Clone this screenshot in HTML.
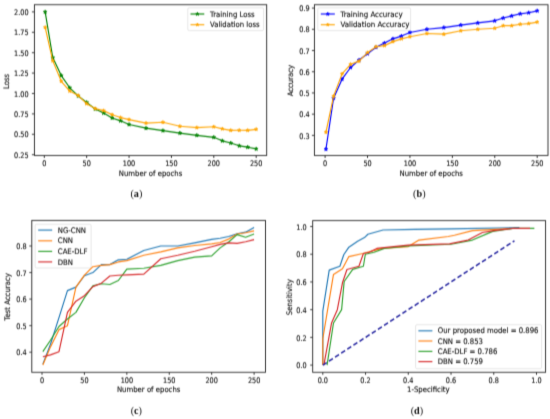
<!DOCTYPE html>
<html><head><meta charset="utf-8"><title>Figure</title>
<style>
html,body{margin:0;padding:0;background:#fff;}
svg{display:block;}
svg text{font-family:"DejaVu Sans","Liberation Sans",sans-serif;font-size:6.93px;fill:#111;stroke:#111;stroke-width:0.12px;}
svg text.cap{font-family:"Liberation Serif","DejaVu Serif",serif;font-size:10.2px;fill:#111;stroke:none;}
</style></head><body>
<svg width="550" height="419" viewBox="0 0 550 419">
<defs><filter id="soft" color-interpolation-filters="sRGB" x="0" y="0" width="550" height="419" filterUnits="userSpaceOnUse"><feConvolveMatrix order="3" kernelMatrix="0.0200 0.1600 0.0200 0.0600 0.4800 0.0600 0.0200 0.1600 0.0200" divisor="1" edgeMode="duplicate" preserveAlpha="true"/></filter></defs>
<rect width="550" height="419" fill="#fff"/>
<g filter="url(#soft)">
<rect width="550" height="419" fill="#fff"/>
<clipPath id="c39"><rect x="34.40" y="4.70" width="232.30" height="150.80"/></clipPath>
<g clip-path="url(#c39)">
<polyline points="45.15,11.90 52.77,57.60 61.25,75.55 69.72,87.79 78.20,95.95 86.67,102.48 95.15,109.00 103.62,113.08 112.10,117.98 120.58,120.84 129.05,124.51 146.00,128.18 162.95,130.63 179.90,133.08 196.85,135.36 213.80,137.32 222.27,140.83 230.75,143.03 239.23,145.81 247.70,147.19 256.18,148.91" fill="none" stroke="#008000" stroke-width="1.15" stroke-linejoin="round"/>
<polygon points="45.15,9.90 45.60,11.28 47.05,11.28 45.87,12.14 46.32,13.52 45.15,12.66 43.97,13.52 44.42,12.14 43.25,11.28 44.70,11.28" fill="#008000" stroke="#008000" stroke-width="0.69" stroke-linejoin="miter"/>
<polygon points="52.77,55.60 53.22,56.98 54.68,56.98 53.50,57.83 53.95,59.21 52.77,58.36 51.60,59.21 52.05,57.83 50.87,56.98 52.33,56.98" fill="#008000" stroke="#008000" stroke-width="0.69" stroke-linejoin="miter"/>
<polygon points="61.25,73.55 61.70,74.93 63.15,74.93 61.98,75.78 62.43,77.17 61.25,76.31 60.07,77.17 60.52,75.78 59.35,74.93 60.80,74.93" fill="#008000" stroke="#008000" stroke-width="0.69" stroke-linejoin="miter"/>
<polygon points="69.72,85.79 70.17,87.17 71.63,87.17 70.45,88.02 70.90,89.41 69.72,88.55 68.55,89.41 69.00,88.02 67.82,87.17 69.28,87.17" fill="#008000" stroke="#008000" stroke-width="0.69" stroke-linejoin="miter"/>
<polygon points="78.20,93.95 78.65,95.33 80.10,95.33 78.93,96.18 79.38,97.57 78.20,96.71 77.02,97.57 77.47,96.18 76.30,95.33 77.75,95.33" fill="#008000" stroke="#008000" stroke-width="0.69" stroke-linejoin="miter"/>
<polygon points="86.67,100.48 87.12,101.86 88.58,101.86 87.40,102.71 87.85,104.09 86.67,103.24 85.50,104.09 85.95,102.71 84.77,101.86 86.23,101.86" fill="#008000" stroke="#008000" stroke-width="0.69" stroke-linejoin="miter"/>
<polygon points="95.15,107.00 95.60,108.39 97.05,108.39 95.88,109.24 96.33,110.62 95.15,109.77 93.97,110.62 94.42,109.24 93.25,108.39 94.70,108.39" fill="#008000" stroke="#008000" stroke-width="0.69" stroke-linejoin="miter"/>
<polygon points="103.62,111.08 104.07,112.47 105.53,112.47 104.35,113.32 104.80,114.70 103.62,113.85 102.45,114.70 102.90,113.32 101.72,112.47 103.18,112.47" fill="#008000" stroke="#008000" stroke-width="0.69" stroke-linejoin="miter"/>
<polygon points="112.10,115.98 112.55,117.36 114.00,117.36 112.83,118.22 113.28,119.60 112.10,118.74 110.92,119.60 111.37,118.22 110.20,117.36 111.65,117.36" fill="#008000" stroke="#008000" stroke-width="0.69" stroke-linejoin="miter"/>
<polygon points="120.58,118.84 121.02,120.22 122.48,120.22 121.30,121.07 121.75,122.45 120.58,121.60 119.40,122.45 119.85,121.07 118.67,120.22 120.13,120.22" fill="#008000" stroke="#008000" stroke-width="0.69" stroke-linejoin="miter"/>
<polygon points="129.05,122.51 129.50,123.89 130.95,123.89 129.78,124.74 130.23,126.13 129.05,125.27 127.87,126.13 128.32,124.74 127.15,123.89 128.60,123.89" fill="#008000" stroke="#008000" stroke-width="0.69" stroke-linejoin="miter"/>
<polygon points="146.00,126.18 146.45,127.56 147.90,127.56 146.73,128.42 147.18,129.80 146.00,128.94 144.82,129.80 145.27,128.42 144.10,127.56 145.55,127.56" fill="#008000" stroke="#008000" stroke-width="0.69" stroke-linejoin="miter"/>
<polygon points="162.95,128.63 163.40,130.01 164.85,130.01 163.68,130.86 164.13,132.25 162.95,131.39 161.77,132.25 162.22,130.86 161.05,130.01 162.50,130.01" fill="#008000" stroke="#008000" stroke-width="0.69" stroke-linejoin="miter"/>
<polygon points="179.90,131.08 180.35,132.46 181.80,132.46 180.63,133.31 181.08,134.69 179.90,133.84 178.72,134.69 179.17,133.31 178.00,132.46 179.45,132.46" fill="#008000" stroke="#008000" stroke-width="0.69" stroke-linejoin="miter"/>
<polygon points="196.85,133.36 197.30,134.74 198.75,134.74 197.58,135.60 198.03,136.98 196.85,136.12 195.67,136.98 196.12,135.60 194.95,134.74 196.40,134.74" fill="#008000" stroke="#008000" stroke-width="0.69" stroke-linejoin="miter"/>
<polygon points="213.80,135.32 214.25,136.70 215.70,136.70 214.53,137.56 214.98,138.94 213.80,138.08 212.62,138.94 213.07,137.56 211.90,136.70 213.35,136.70" fill="#008000" stroke="#008000" stroke-width="0.69" stroke-linejoin="miter"/>
<polygon points="222.27,138.83 222.72,140.21 224.18,140.21 223.00,141.06 223.45,142.45 222.27,141.59 221.10,142.45 221.55,141.06 220.37,140.21 221.83,140.21" fill="#008000" stroke="#008000" stroke-width="0.69" stroke-linejoin="miter"/>
<polygon points="230.75,141.03 231.20,142.41 232.65,142.41 231.48,143.27 231.93,144.65 230.75,143.80 229.57,144.65 230.02,143.27 228.85,142.41 230.30,142.41" fill="#008000" stroke="#008000" stroke-width="0.69" stroke-linejoin="miter"/>
<polygon points="239.23,143.81 239.67,145.19 241.13,145.19 239.95,146.04 240.40,147.42 239.23,146.57 238.05,147.42 238.50,146.04 237.32,145.19 238.78,145.19" fill="#008000" stroke="#008000" stroke-width="0.69" stroke-linejoin="miter"/>
<polygon points="247.70,145.19 248.15,146.57 249.60,146.57 248.43,147.43 248.88,148.81 247.70,147.96 246.52,148.81 246.97,147.43 245.80,146.57 247.25,146.57" fill="#008000" stroke="#008000" stroke-width="0.69" stroke-linejoin="miter"/>
<polygon points="256.18,146.91 256.62,148.29 258.08,148.29 256.90,149.14 257.35,150.52 256.18,149.67 255.00,150.52 255.45,149.14 254.27,148.29 255.73,148.29" fill="#008000" stroke="#008000" stroke-width="0.69" stroke-linejoin="miter"/>
<polyline points="45.15,27.40 52.77,60.86 61.25,81.26 69.72,91.05 78.20,95.54 86.67,103.70 95.15,108.60 103.62,110.64 112.10,114.72 120.58,117.57 129.05,119.61 146.00,123.12 162.95,122.30 179.90,126.30 196.85,127.61 213.80,126.79 222.27,128.83 230.75,130.38 239.23,130.30 247.70,130.38 256.18,129.32" fill="none" stroke="#ffa500" stroke-width="1.15" stroke-linejoin="round"/>
<polygon points="45.15,25.55 45.56,26.83 46.91,26.83 45.82,27.62 46.23,28.90 45.15,28.11 44.06,28.90 44.48,27.62 43.39,26.83 44.73,26.83" fill="#ffa500" stroke="#ffa500" stroke-width="0.69" stroke-linejoin="miter"/>
<polygon points="52.77,59.01 53.19,60.29 54.53,60.29 53.45,61.08 53.86,62.36 52.77,61.57 51.69,62.36 52.10,61.08 51.02,60.29 52.36,60.29" fill="#ffa500" stroke="#ffa500" stroke-width="0.69" stroke-linejoin="miter"/>
<polygon points="61.25,79.41 61.67,80.69 63.01,80.69 61.92,81.48 62.34,82.76 61.25,81.97 60.16,82.76 60.58,81.48 59.49,80.69 60.83,80.69" fill="#ffa500" stroke="#ffa500" stroke-width="0.69" stroke-linejoin="miter"/>
<polygon points="69.72,89.20 70.14,90.48 71.48,90.48 70.40,91.27 70.81,92.55 69.72,91.76 68.64,92.55 69.05,91.27 67.97,90.48 69.31,90.48" fill="#ffa500" stroke="#ffa500" stroke-width="0.69" stroke-linejoin="miter"/>
<polygon points="78.20,93.69 78.62,94.97 79.96,94.97 78.87,95.76 79.29,97.04 78.20,96.25 77.11,97.04 77.53,95.76 76.44,94.97 77.78,94.97" fill="#ffa500" stroke="#ffa500" stroke-width="0.69" stroke-linejoin="miter"/>
<polygon points="86.67,101.85 87.09,103.13 88.43,103.13 87.35,103.92 87.76,105.20 86.67,104.41 85.59,105.20 86.00,103.92 84.92,103.13 86.26,103.13" fill="#ffa500" stroke="#ffa500" stroke-width="0.69" stroke-linejoin="miter"/>
<polygon points="95.15,106.75 95.57,108.02 96.91,108.02 95.82,108.81 96.24,110.09 95.15,109.30 94.06,110.09 94.48,108.81 93.39,108.02 94.73,108.02" fill="#ffa500" stroke="#ffa500" stroke-width="0.69" stroke-linejoin="miter"/>
<polygon points="103.62,108.79 104.04,110.06 105.38,110.06 104.30,110.85 104.71,112.13 103.62,111.34 102.54,112.13 102.95,110.85 101.87,110.06 103.21,110.06" fill="#ffa500" stroke="#ffa500" stroke-width="0.69" stroke-linejoin="miter"/>
<polygon points="112.10,112.87 112.52,114.14 113.86,114.14 112.77,114.93 113.19,116.21 112.10,115.42 111.01,116.21 111.43,114.93 110.34,114.14 111.68,114.14" fill="#ffa500" stroke="#ffa500" stroke-width="0.69" stroke-linejoin="miter"/>
<polygon points="120.58,115.72 120.99,117.00 122.33,117.00 121.25,117.79 121.66,119.07 120.58,118.28 119.49,119.07 119.90,117.79 118.82,117.00 120.16,117.00" fill="#ffa500" stroke="#ffa500" stroke-width="0.69" stroke-linejoin="miter"/>
<polygon points="129.05,117.76 129.47,119.04 130.81,119.04 129.72,119.83 130.14,121.11 129.05,120.32 127.96,121.11 128.38,119.83 127.29,119.04 128.63,119.04" fill="#ffa500" stroke="#ffa500" stroke-width="0.69" stroke-linejoin="miter"/>
<polygon points="146.00,121.27 146.42,122.55 147.76,122.55 146.67,123.34 147.09,124.62 146.00,123.83 144.91,124.62 145.33,123.34 144.24,122.55 145.58,122.55" fill="#ffa500" stroke="#ffa500" stroke-width="0.69" stroke-linejoin="miter"/>
<polygon points="162.95,120.45 163.37,121.73 164.71,121.73 163.62,122.52 164.04,123.80 162.95,123.01 161.86,123.80 162.28,122.52 161.19,121.73 162.53,121.73" fill="#ffa500" stroke="#ffa500" stroke-width="0.69" stroke-linejoin="miter"/>
<polygon points="179.90,124.45 180.32,125.73 181.66,125.73 180.57,126.52 180.99,127.80 179.90,127.01 178.81,127.80 179.23,126.52 178.14,125.73 179.48,125.73" fill="#ffa500" stroke="#ffa500" stroke-width="0.69" stroke-linejoin="miter"/>
<polygon points="196.85,125.76 197.27,127.04 198.61,127.04 197.52,127.83 197.94,129.11 196.85,128.32 195.76,129.11 196.18,127.83 195.09,127.04 196.43,127.04" fill="#ffa500" stroke="#ffa500" stroke-width="0.69" stroke-linejoin="miter"/>
<polygon points="213.80,124.94 214.22,126.22 215.56,126.22 214.47,127.01 214.89,128.29 213.80,127.50 212.71,128.29 213.13,127.01 212.04,126.22 213.38,126.22" fill="#ffa500" stroke="#ffa500" stroke-width="0.69" stroke-linejoin="miter"/>
<polygon points="222.27,126.98 222.69,128.26 224.03,128.26 222.95,129.05 223.36,130.33 222.27,129.54 221.19,130.33 221.60,129.05 220.52,128.26 221.86,128.26" fill="#ffa500" stroke="#ffa500" stroke-width="0.69" stroke-linejoin="miter"/>
<polygon points="230.75,128.53 231.17,129.81 232.51,129.81 231.42,130.60 231.84,131.88 230.75,131.09 229.66,131.88 230.08,130.60 228.99,129.81 230.33,129.81" fill="#ffa500" stroke="#ffa500" stroke-width="0.69" stroke-linejoin="miter"/>
<polygon points="239.23,128.45 239.64,129.73 240.98,129.73 239.90,130.52 240.31,131.80 239.23,131.01 238.14,131.80 238.55,130.52 237.47,129.73 238.81,129.73" fill="#ffa500" stroke="#ffa500" stroke-width="0.69" stroke-linejoin="miter"/>
<polygon points="247.70,128.53 248.12,129.81 249.46,129.81 248.37,130.60 248.79,131.88 247.70,131.09 246.61,131.88 247.03,130.60 245.94,129.81 247.28,129.81" fill="#ffa500" stroke="#ffa500" stroke-width="0.69" stroke-linejoin="miter"/>
<polygon points="256.18,127.47 256.59,128.75 257.93,128.75 256.85,129.54 257.26,130.82 256.18,130.03 255.09,130.82 255.50,129.54 254.42,128.75 255.76,128.75" fill="#ffa500" stroke="#ffa500" stroke-width="0.69" stroke-linejoin="miter"/>
</g>
<rect x="34.40" y="4.70" width="232.30" height="150.80" fill="none" stroke="#222" stroke-width="0.9"/>
<line x1="44.30" y1="155.50" x2="44.30" y2="158.00" stroke="#222" stroke-width="0.9"/>
<text transform="translate(44.30,165.85) scale(0.940,1.100)" text-anchor="middle">0</text>
<line x1="86.67" y1="155.50" x2="86.67" y2="158.00" stroke="#222" stroke-width="0.9"/>
<text transform="translate(86.67,165.85) scale(0.940,1.100)" text-anchor="middle">50</text>
<line x1="129.05" y1="155.50" x2="129.05" y2="158.00" stroke="#222" stroke-width="0.9"/>
<text transform="translate(129.05,165.85) scale(0.940,1.100)" text-anchor="middle">100</text>
<line x1="171.43" y1="155.50" x2="171.43" y2="158.00" stroke="#222" stroke-width="0.9"/>
<text transform="translate(171.43,165.85) scale(0.940,1.100)" text-anchor="middle">150</text>
<line x1="213.80" y1="155.50" x2="213.80" y2="158.00" stroke="#222" stroke-width="0.9"/>
<text transform="translate(213.80,165.85) scale(0.940,1.100)" text-anchor="middle">200</text>
<line x1="256.18" y1="155.50" x2="256.18" y2="158.00" stroke="#222" stroke-width="0.9"/>
<text transform="translate(256.18,165.85) scale(0.940,1.100)" text-anchor="middle">250</text>
<line x1="31.90" y1="154.70" x2="34.40" y2="154.70" stroke="#222" stroke-width="0.9"/>
<text transform="translate(28.60,157.85) scale(0.940,1.100)" text-anchor="end">0.25</text>
<line x1="31.90" y1="134.30" x2="34.40" y2="134.30" stroke="#222" stroke-width="0.9"/>
<text transform="translate(28.60,137.45) scale(0.940,1.100)" text-anchor="end">0.50</text>
<line x1="31.90" y1="113.90" x2="34.40" y2="113.90" stroke="#222" stroke-width="0.9"/>
<text transform="translate(28.60,117.05) scale(0.940,1.100)" text-anchor="end">0.75</text>
<line x1="31.90" y1="93.50" x2="34.40" y2="93.50" stroke="#222" stroke-width="0.9"/>
<text transform="translate(28.60,96.65) scale(0.940,1.100)" text-anchor="end">1.00</text>
<line x1="31.90" y1="73.10" x2="34.40" y2="73.10" stroke="#222" stroke-width="0.9"/>
<text transform="translate(28.60,76.25) scale(0.940,1.100)" text-anchor="end">1.25</text>
<line x1="31.90" y1="52.70" x2="34.40" y2="52.70" stroke="#222" stroke-width="0.9"/>
<text transform="translate(28.60,55.85) scale(0.940,1.100)" text-anchor="end">1.50</text>
<line x1="31.90" y1="32.30" x2="34.40" y2="32.30" stroke="#222" stroke-width="0.9"/>
<text transform="translate(28.60,35.45) scale(0.940,1.100)" text-anchor="end">1.75</text>
<line x1="31.90" y1="11.90" x2="34.40" y2="11.90" stroke="#222" stroke-width="0.9"/>
<text transform="translate(28.60,15.05) scale(0.940,1.100)" text-anchor="end">2.00</text>
<text transform="translate(150.55,175.50) scale(1.000,1.100)" text-anchor="middle">Number of epochs</text>
<text transform="translate(9.00,81.40) rotate(-90) scale(1.000,1.100)" text-anchor="middle">Loss</text>
<rect x="187.80" y="7.80" width="75.80" height="22.80" rx="1.4" fill="#fff" fill-opacity="0.8" stroke="#ccc" stroke-opacity="0.8" stroke-width="0.6"/>
<line x1="190.50" y1="14.00" x2="204.30" y2="14.00" stroke="#008000" stroke-width="1.15"/>
<polygon points="197.40,12.20 197.80,13.44 199.11,13.44 198.05,14.21 198.46,15.46 197.40,14.69 196.34,15.46 196.75,14.21 195.69,13.44 197.00,13.44" fill="#008000" stroke="#008000" stroke-width="0.69" stroke-linejoin="miter"/>
<text transform="translate(210.00,16.60) scale(1.000,1.100)">Training Loss</text>
<line x1="190.50" y1="24.70" x2="204.30" y2="24.70" stroke="#ffa500" stroke-width="1.15"/>
<polygon points="197.40,23.04 197.77,24.19 198.98,24.19 198.00,24.90 198.38,26.05 197.40,25.34 196.42,26.05 196.80,24.90 195.82,24.19 197.03,24.19" fill="#ffa500" stroke="#ffa500" stroke-width="0.69" stroke-linejoin="miter"/>
<text transform="translate(210.00,27.30) scale(1.000,1.100)">Validation loss</text>
<clipPath id="c319"><rect x="314.40" y="4.70" width="233.60" height="150.80"/></clipPath>
<g clip-path="url(#c319)">
<polyline points="325.95,149.19 333.58,98.27 342.07,79.17 350.55,67.50 359.04,60.07 367.52,53.70 376.00,47.34 384.49,43.09 392.97,38.85 401.46,36.09 409.94,32.48 426.91,29.30 443.88,27.60 460.84,25.06 477.81,22.93 494.78,20.81 503.26,18.05 511.75,15.93 520.23,13.81 528.72,12.75 537.20,10.84" fill="none" stroke="#0000ff" stroke-width="1.15" stroke-linejoin="round"/>
<polygon points="325.95,147.19 326.40,148.57 327.85,148.57 326.67,149.43 327.12,150.81 325.95,149.96 324.77,150.81 325.22,149.43 324.05,148.57 325.50,148.57" fill="#0000ff" stroke="#0000ff" stroke-width="0.69" stroke-linejoin="miter"/>
<polygon points="333.58,96.27 334.03,97.65 335.49,97.65 334.31,98.50 334.76,99.88 333.58,99.03 332.41,99.88 332.86,98.50 331.68,97.65 333.13,97.65" fill="#0000ff" stroke="#0000ff" stroke-width="0.69" stroke-linejoin="miter"/>
<polygon points="342.07,77.17 342.52,78.55 343.97,78.55 342.79,79.40 343.24,80.79 342.07,79.93 340.89,80.79 341.34,79.40 340.17,78.55 341.62,78.55" fill="#0000ff" stroke="#0000ff" stroke-width="0.69" stroke-linejoin="miter"/>
<polygon points="350.55,65.50 351.00,66.88 352.45,66.88 351.28,67.73 351.73,69.11 350.55,68.26 349.38,69.11 349.83,67.73 348.65,66.88 350.10,66.88" fill="#0000ff" stroke="#0000ff" stroke-width="0.69" stroke-linejoin="miter"/>
<polygon points="359.04,58.07 359.49,59.45 360.94,59.45 359.76,60.31 360.21,61.69 359.04,60.83 357.86,61.69 358.31,60.31 357.13,59.45 358.59,59.45" fill="#0000ff" stroke="#0000ff" stroke-width="0.69" stroke-linejoin="miter"/>
<polygon points="367.52,51.70 367.97,53.08 369.42,53.08 368.25,53.94 368.70,55.32 367.52,54.47 366.34,55.32 366.79,53.94 365.62,53.08 367.07,53.08" fill="#0000ff" stroke="#0000ff" stroke-width="0.69" stroke-linejoin="miter"/>
<polygon points="376.00,45.34 376.45,46.72 377.91,46.72 376.73,47.57 377.18,48.96 376.00,48.10 374.83,48.96 375.28,47.57 374.10,46.72 375.55,46.72" fill="#0000ff" stroke="#0000ff" stroke-width="0.69" stroke-linejoin="miter"/>
<polygon points="384.49,41.09 384.94,42.47 386.39,42.47 385.21,43.33 385.66,44.71 384.49,43.86 383.31,44.71 383.76,43.33 382.59,42.47 384.04,42.47" fill="#0000ff" stroke="#0000ff" stroke-width="0.69" stroke-linejoin="miter"/>
<polygon points="392.97,36.85 393.42,38.23 394.87,38.23 393.70,39.09 394.15,40.47 392.97,39.61 391.80,40.47 392.25,39.09 391.07,38.23 392.52,38.23" fill="#0000ff" stroke="#0000ff" stroke-width="0.69" stroke-linejoin="miter"/>
<polygon points="401.46,34.09 401.91,35.47 403.36,35.47 402.18,36.33 402.63,37.71 401.46,36.85 400.28,37.71 400.73,36.33 399.55,35.47 401.01,35.47" fill="#0000ff" stroke="#0000ff" stroke-width="0.69" stroke-linejoin="miter"/>
<polygon points="409.94,30.48 410.39,31.86 411.84,31.86 410.67,32.72 411.12,34.10 409.94,33.25 408.76,34.10 409.21,32.72 408.04,31.86 409.49,31.86" fill="#0000ff" stroke="#0000ff" stroke-width="0.69" stroke-linejoin="miter"/>
<polygon points="426.91,27.30 427.36,28.68 428.81,28.68 427.63,29.54 428.08,30.92 426.91,30.06 425.73,30.92 426.18,29.54 425.01,28.68 426.46,28.68" fill="#0000ff" stroke="#0000ff" stroke-width="0.69" stroke-linejoin="miter"/>
<polygon points="443.88,25.60 444.33,26.98 445.78,26.98 444.60,27.84 445.05,29.22 443.88,28.37 442.70,29.22 443.15,27.84 441.97,26.98 443.43,26.98" fill="#0000ff" stroke="#0000ff" stroke-width="0.69" stroke-linejoin="miter"/>
<polygon points="460.84,23.06 461.29,24.44 462.75,24.44 461.57,25.29 462.02,26.67 460.84,25.82 459.67,26.67 460.12,25.29 458.94,24.44 460.39,24.44" fill="#0000ff" stroke="#0000ff" stroke-width="0.69" stroke-linejoin="miter"/>
<polygon points="477.81,20.93 478.26,22.32 479.71,22.32 478.54,23.17 478.99,24.55 477.81,23.70 476.64,24.55 477.09,23.17 475.91,22.32 477.36,22.32" fill="#0000ff" stroke="#0000ff" stroke-width="0.69" stroke-linejoin="miter"/>
<polygon points="494.78,18.81 495.23,20.19 496.68,20.19 495.51,21.05 495.96,22.43 494.78,21.58 493.60,22.43 494.05,21.05 492.88,20.19 494.33,20.19" fill="#0000ff" stroke="#0000ff" stroke-width="0.69" stroke-linejoin="miter"/>
<polygon points="503.26,16.05 503.71,17.44 505.17,17.44 503.99,18.29 504.44,19.67 503.26,18.82 502.09,19.67 502.54,18.29 501.36,17.44 502.81,17.44" fill="#0000ff" stroke="#0000ff" stroke-width="0.69" stroke-linejoin="miter"/>
<polygon points="511.75,13.93 512.20,15.31 513.65,15.31 512.47,16.17 512.92,17.55 511.75,16.70 510.57,17.55 511.02,16.17 509.85,15.31 511.30,15.31" fill="#0000ff" stroke="#0000ff" stroke-width="0.69" stroke-linejoin="miter"/>
<polygon points="520.23,11.81 520.68,13.19 522.13,13.19 520.96,14.05 521.41,15.43 520.23,14.57 519.06,15.43 519.51,14.05 518.33,13.19 519.78,13.19" fill="#0000ff" stroke="#0000ff" stroke-width="0.69" stroke-linejoin="miter"/>
<polygon points="528.72,10.75 529.17,12.13 530.62,12.13 529.44,12.98 529.89,14.37 528.72,13.51 527.54,14.37 527.99,12.98 526.81,12.13 528.27,12.13" fill="#0000ff" stroke="#0000ff" stroke-width="0.69" stroke-linejoin="miter"/>
<polygon points="537.20,8.84 537.65,10.22 539.10,10.22 537.93,11.07 538.38,12.46 537.20,11.60 536.02,12.46 536.47,11.07 535.30,10.22 536.75,10.22" fill="#0000ff" stroke="#0000ff" stroke-width="0.69" stroke-linejoin="miter"/>
<polyline points="325.95,132.22 333.58,96.14 342.07,73.86 350.55,64.31 359.04,61.13 367.52,52.64 376.00,46.70 384.49,45.64 392.97,41.61 401.46,38.85 409.94,36.73 426.91,33.54 443.88,34.18 460.84,30.79 477.81,29.30 494.78,28.24 503.26,25.69 511.75,25.69 520.23,24.21 528.72,23.57 537.20,22.09" fill="none" stroke="#ffa500" stroke-width="1.15" stroke-linejoin="round"/>
<polygon points="325.95,130.37 326.36,131.65 327.71,131.65 326.62,132.44 327.04,133.71 325.95,132.92 324.86,133.71 325.28,132.44 324.19,131.65 325.53,131.65" fill="#ffa500" stroke="#ffa500" stroke-width="0.69" stroke-linejoin="miter"/>
<polygon points="333.58,94.29 334.00,95.57 335.34,95.57 334.26,96.36 334.67,97.64 333.58,96.85 332.50,97.64 332.91,96.36 331.82,95.57 333.17,95.57" fill="#ffa500" stroke="#ffa500" stroke-width="0.69" stroke-linejoin="miter"/>
<polygon points="342.07,72.01 342.48,73.29 343.83,73.29 342.74,74.08 343.16,75.36 342.07,74.57 340.98,75.36 341.40,74.08 340.31,73.29 341.65,73.29" fill="#ffa500" stroke="#ffa500" stroke-width="0.69" stroke-linejoin="miter"/>
<polygon points="350.55,62.46 350.97,63.74 352.31,63.74 351.22,64.53 351.64,65.81 350.55,65.02 349.46,65.81 349.88,64.53 348.79,63.74 350.14,63.74" fill="#ffa500" stroke="#ffa500" stroke-width="0.69" stroke-linejoin="miter"/>
<polygon points="359.04,59.28 359.45,60.56 360.80,60.56 359.71,61.35 360.12,62.63 359.04,61.84 357.95,62.63 358.36,61.35 357.28,60.56 358.62,60.56" fill="#ffa500" stroke="#ffa500" stroke-width="0.69" stroke-linejoin="miter"/>
<polygon points="367.52,50.79 367.94,52.07 369.28,52.07 368.19,52.86 368.61,54.14 367.52,53.35 366.43,54.14 366.85,52.86 365.76,52.07 367.10,52.07" fill="#ffa500" stroke="#ffa500" stroke-width="0.69" stroke-linejoin="miter"/>
<polygon points="376.00,44.85 376.42,46.13 377.76,46.13 376.68,46.92 377.09,48.20 376.00,47.41 374.92,48.20 375.33,46.92 374.24,46.13 375.59,46.13" fill="#ffa500" stroke="#ffa500" stroke-width="0.69" stroke-linejoin="miter"/>
<polygon points="384.49,43.79 384.90,45.07 386.25,45.07 385.16,45.86 385.58,47.14 384.49,46.35 383.40,47.14 383.82,45.86 382.73,45.07 384.07,45.07" fill="#ffa500" stroke="#ffa500" stroke-width="0.69" stroke-linejoin="miter"/>
<polygon points="392.97,39.76 393.39,41.04 394.73,41.04 393.64,41.83 394.06,43.10 392.97,42.31 391.88,43.10 392.30,41.83 391.21,41.04 392.56,41.04" fill="#ffa500" stroke="#ffa500" stroke-width="0.69" stroke-linejoin="miter"/>
<polygon points="401.46,37.00 401.87,38.28 403.22,38.28 402.13,39.07 402.54,40.35 401.46,39.56 400.37,40.35 400.78,39.07 399.70,38.28 401.04,38.28" fill="#ffa500" stroke="#ffa500" stroke-width="0.69" stroke-linejoin="miter"/>
<polygon points="409.94,34.88 410.36,36.16 411.70,36.16 410.61,36.95 411.03,38.22 409.94,37.43 408.85,38.22 409.27,36.95 408.18,36.16 409.52,36.16" fill="#ffa500" stroke="#ffa500" stroke-width="0.69" stroke-linejoin="miter"/>
<polygon points="426.91,31.69 427.32,32.97 428.67,32.97 427.58,33.76 428.00,35.04 426.91,34.25 425.82,35.04 426.24,33.76 425.15,32.97 426.49,32.97" fill="#ffa500" stroke="#ffa500" stroke-width="0.69" stroke-linejoin="miter"/>
<polygon points="443.88,32.33 444.29,33.61 445.64,33.61 444.55,34.40 444.96,35.68 443.88,34.89 442.79,35.68 443.20,34.40 442.12,33.61 443.46,33.61" fill="#ffa500" stroke="#ffa500" stroke-width="0.69" stroke-linejoin="miter"/>
<polygon points="460.84,28.94 461.26,30.21 462.60,30.21 461.52,31.00 461.93,32.28 460.84,31.49 459.76,32.28 460.17,31.00 459.08,30.21 460.43,30.21" fill="#ffa500" stroke="#ffa500" stroke-width="0.69" stroke-linejoin="miter"/>
<polygon points="477.81,27.45 478.23,28.73 479.57,28.73 478.48,29.52 478.90,30.80 477.81,30.01 476.72,30.80 477.14,29.52 476.05,28.73 477.40,28.73" fill="#ffa500" stroke="#ffa500" stroke-width="0.69" stroke-linejoin="miter"/>
<polygon points="494.78,26.39 495.20,27.67 496.54,27.67 495.45,28.46 495.87,29.74 494.78,28.95 493.69,29.74 494.11,28.46 493.02,27.67 494.36,27.67" fill="#ffa500" stroke="#ffa500" stroke-width="0.69" stroke-linejoin="miter"/>
<polygon points="503.26,23.84 503.68,25.12 505.02,25.12 503.94,25.91 504.35,27.19 503.26,26.40 502.18,27.19 502.59,25.91 501.50,25.12 502.85,25.12" fill="#ffa500" stroke="#ffa500" stroke-width="0.69" stroke-linejoin="miter"/>
<polygon points="511.75,23.84 512.16,25.12 513.51,25.12 512.42,25.91 512.84,27.19 511.75,26.40 510.66,27.19 511.08,25.91 509.99,25.12 511.33,25.12" fill="#ffa500" stroke="#ffa500" stroke-width="0.69" stroke-linejoin="miter"/>
<polygon points="520.23,22.36 520.65,23.64 521.99,23.64 520.90,24.43 521.32,25.70 520.23,24.91 519.14,25.70 519.56,24.43 518.47,23.64 519.82,23.64" fill="#ffa500" stroke="#ffa500" stroke-width="0.69" stroke-linejoin="miter"/>
<polygon points="528.72,21.72 529.13,23.00 530.48,23.00 529.39,23.79 529.80,25.07 528.72,24.28 527.63,25.07 528.04,23.79 526.96,23.00 528.30,23.00" fill="#ffa500" stroke="#ffa500" stroke-width="0.69" stroke-linejoin="miter"/>
<polygon points="537.20,20.24 537.62,21.51 538.96,21.51 537.87,22.30 538.29,23.58 537.20,22.79 536.11,23.58 536.53,22.30 535.44,21.51 536.78,21.51" fill="#ffa500" stroke="#ffa500" stroke-width="0.69" stroke-linejoin="miter"/>
</g>
<rect x="314.40" y="4.70" width="233.60" height="150.80" fill="none" stroke="#222" stroke-width="0.9"/>
<line x1="325.10" y1="155.50" x2="325.10" y2="158.00" stroke="#222" stroke-width="0.9"/>
<text transform="translate(325.10,165.85) scale(0.940,1.100)" text-anchor="middle">0</text>
<line x1="367.52" y1="155.50" x2="367.52" y2="158.00" stroke="#222" stroke-width="0.9"/>
<text transform="translate(367.52,165.85) scale(0.940,1.100)" text-anchor="middle">50</text>
<line x1="409.94" y1="155.50" x2="409.94" y2="158.00" stroke="#222" stroke-width="0.9"/>
<text transform="translate(409.94,165.85) scale(0.940,1.100)" text-anchor="middle">100</text>
<line x1="452.36" y1="155.50" x2="452.36" y2="158.00" stroke="#222" stroke-width="0.9"/>
<text transform="translate(452.36,165.85) scale(0.940,1.100)" text-anchor="middle">150</text>
<line x1="494.78" y1="155.50" x2="494.78" y2="158.00" stroke="#222" stroke-width="0.9"/>
<text transform="translate(494.78,165.85) scale(0.940,1.100)" text-anchor="middle">200</text>
<line x1="537.20" y1="155.50" x2="537.20" y2="158.00" stroke="#222" stroke-width="0.9"/>
<text transform="translate(537.20,165.85) scale(0.940,1.100)" text-anchor="middle">250</text>
<line x1="311.90" y1="135.40" x2="314.40" y2="135.40" stroke="#222" stroke-width="0.9"/>
<text transform="translate(309.60,138.55) scale(0.940,1.100)" text-anchor="end">0.3</text>
<line x1="311.90" y1="114.18" x2="314.40" y2="114.18" stroke="#222" stroke-width="0.9"/>
<text transform="translate(309.60,117.33) scale(0.940,1.100)" text-anchor="end">0.4</text>
<line x1="311.90" y1="92.96" x2="314.40" y2="92.96" stroke="#222" stroke-width="0.9"/>
<text transform="translate(309.60,96.11) scale(0.940,1.100)" text-anchor="end">0.5</text>
<line x1="311.90" y1="71.74" x2="314.40" y2="71.74" stroke="#222" stroke-width="0.9"/>
<text transform="translate(309.60,74.89) scale(0.940,1.100)" text-anchor="end">0.6</text>
<line x1="311.90" y1="50.52" x2="314.40" y2="50.52" stroke="#222" stroke-width="0.9"/>
<text transform="translate(309.60,53.67) scale(0.940,1.100)" text-anchor="end">0.7</text>
<line x1="311.90" y1="29.30" x2="314.40" y2="29.30" stroke="#222" stroke-width="0.9"/>
<text transform="translate(309.60,32.45) scale(0.940,1.100)" text-anchor="end">0.8</text>
<line x1="311.90" y1="8.08" x2="314.40" y2="8.08" stroke="#222" stroke-width="0.9"/>
<text transform="translate(309.60,11.23) scale(0.940,1.100)" text-anchor="end">0.9</text>
<text transform="translate(431.20,175.50) scale(1.000,1.100)" text-anchor="middle">Number of epochs</text>
<text transform="translate(292.70,80.60) rotate(-90) scale(1.000,1.100)" text-anchor="middle">Accuracy</text>
<rect x="317.80" y="7.80" width="92.80" height="22.80" rx="1.4" fill="#fff" fill-opacity="0.8" stroke="#ccc" stroke-opacity="0.8" stroke-width="0.6"/>
<line x1="320.80" y1="14.00" x2="334.80" y2="14.00" stroke="#0000ff" stroke-width="1.15"/>
<polygon points="327.80,12.20 328.20,13.44 329.51,13.44 328.45,14.21 328.86,15.46 327.80,14.69 326.74,15.46 327.15,14.21 326.09,13.44 327.40,13.44" fill="#0000ff" stroke="#0000ff" stroke-width="0.69" stroke-linejoin="miter"/>
<text transform="translate(340.40,16.60) scale(1.018,1.100)">Training Accuracy</text>
<line x1="320.80" y1="24.70" x2="334.80" y2="24.70" stroke="#ffa500" stroke-width="1.15"/>
<polygon points="327.80,23.04 328.17,24.19 329.38,24.19 328.40,24.90 328.78,26.05 327.80,25.34 326.82,26.05 327.20,24.90 326.22,24.19 327.43,24.19" fill="#ffa500" stroke="#ffa500" stroke-width="0.69" stroke-linejoin="miter"/>
<text transform="translate(340.40,27.30) scale(1.018,1.100)">Validation Accuracy</text>
<clipPath id="c252"><rect x="31.80" y="220.40" width="233.70" height="151.90"/></clipPath>
<g clip-path="url(#c252)">
<polyline points="42.85,364.15 50.48,344.24 58.97,317.68 67.45,290.60 75.94,287.15 84.42,275.74 92.90,272.55 101.39,264.58 109.87,264.58 118.36,259.81 126.84,259.27 143.81,250.51 160.78,246.00 177.74,246.00 194.71,242.81 211.68,239.36 220.16,238.30 228.65,236.44 237.13,233.79 245.62,232.19 254.10,227.41" fill="none" stroke="#1f77b4" stroke-width="1.15" stroke-linejoin="round"/>
<polyline points="42.85,364.94 50.48,346.89 58.97,329.63 67.45,325.65 75.94,287.15 84.42,275.20 92.90,266.71 101.39,265.38 109.87,264.58 118.36,261.93 126.84,260.60 143.81,255.29 160.78,251.84 177.74,247.86 194.71,245.47 211.68,243.88 220.16,242.55 228.65,239.10 237.13,234.05 245.62,232.72 254.10,230.87" fill="none" stroke="#ff7f0e" stroke-width="1.15" stroke-linejoin="round"/>
<polyline points="42.85,351.67 50.48,340.25 58.97,326.45 67.45,319.01 75.94,312.38 84.42,297.77 92.90,285.82 101.39,283.70 109.87,284.50 118.36,280.51 126.84,269.10 143.81,268.30 160.78,265.38 177.74,260.60 194.71,257.15 211.68,255.82 220.16,247.86 228.65,242.02 237.13,234.58 245.62,237.24 254.10,234.05" fill="none" stroke="#2ca02c" stroke-width="1.15" stroke-linejoin="round"/>
<polyline points="42.85,356.71 50.48,354.85 58.97,351.67 67.45,312.38 75.94,301.22 84.42,295.65 92.90,286.62 101.39,283.17 109.87,276.00 118.36,275.20 126.84,274.94 143.81,274.14 160.78,258.74 177.74,255.29 194.71,251.31 211.68,246.80 220.16,244.41 228.65,242.81 237.13,243.34 245.62,241.75 254.10,239.63" fill="none" stroke="#d62728" stroke-width="1.15" stroke-linejoin="round"/>
</g>
<rect x="31.80" y="220.40" width="233.70" height="151.90" fill="none" stroke="#222" stroke-width="0.9"/>
<line x1="42.00" y1="372.30" x2="42.00" y2="374.80" stroke="#222" stroke-width="0.9"/>
<text transform="translate(42.00,382.85) scale(0.940,1.100)" text-anchor="middle">0</text>
<line x1="84.42" y1="372.30" x2="84.42" y2="374.80" stroke="#222" stroke-width="0.9"/>
<text transform="translate(84.42,382.85) scale(0.940,1.100)" text-anchor="middle">50</text>
<line x1="126.84" y1="372.30" x2="126.84" y2="374.80" stroke="#222" stroke-width="0.9"/>
<text transform="translate(126.84,382.85) scale(0.940,1.100)" text-anchor="middle">100</text>
<line x1="169.26" y1="372.30" x2="169.26" y2="374.80" stroke="#222" stroke-width="0.9"/>
<text transform="translate(169.26,382.85) scale(0.940,1.100)" text-anchor="middle">150</text>
<line x1="211.68" y1="372.30" x2="211.68" y2="374.80" stroke="#222" stroke-width="0.9"/>
<text transform="translate(211.68,382.85) scale(0.940,1.100)" text-anchor="middle">200</text>
<line x1="254.10" y1="372.30" x2="254.10" y2="374.80" stroke="#222" stroke-width="0.9"/>
<text transform="translate(254.10,382.85) scale(0.940,1.100)" text-anchor="middle">250</text>
<line x1="29.30" y1="352.20" x2="31.80" y2="352.20" stroke="#222" stroke-width="0.9"/>
<text transform="translate(26.60,355.35) scale(0.940,1.100)" text-anchor="end">0.4</text>
<line x1="29.30" y1="325.65" x2="31.80" y2="325.65" stroke="#222" stroke-width="0.9"/>
<text transform="translate(26.60,328.80) scale(0.940,1.100)" text-anchor="end">0.5</text>
<line x1="29.30" y1="299.10" x2="31.80" y2="299.10" stroke="#222" stroke-width="0.9"/>
<text transform="translate(26.60,302.25) scale(0.940,1.100)" text-anchor="end">0.6</text>
<line x1="29.30" y1="272.55" x2="31.80" y2="272.55" stroke="#222" stroke-width="0.9"/>
<text transform="translate(26.60,275.70) scale(0.940,1.100)" text-anchor="end">0.7</text>
<line x1="29.30" y1="246.00" x2="31.80" y2="246.00" stroke="#222" stroke-width="0.9"/>
<text transform="translate(26.60,249.15) scale(0.940,1.100)" text-anchor="end">0.8</text>
<text transform="translate(148.65,392.10) scale(1.000,1.100)" text-anchor="middle">Number of epochs</text>
<text transform="translate(10.40,296.95) rotate(-90) scale(1.000,1.100)" text-anchor="middle">Test Accuracy</text>
<rect x="35.10" y="224.30" width="56.00" height="43.70" rx="1.4" fill="#fff" fill-opacity="0.8" stroke="#ccc" stroke-opacity="0.8" stroke-width="0.6"/>
<line x1="38.20" y1="230.10" x2="52.20" y2="230.10" stroke="#1f77b4" stroke-width="1.15"/>
<text transform="translate(57.80,232.70) scale(1.000,1.100)">NG-CNN</text>
<line x1="38.20" y1="240.80" x2="52.20" y2="240.80" stroke="#ff7f0e" stroke-width="1.15"/>
<text transform="translate(57.80,243.40) scale(1.000,1.100)">CNN</text>
<line x1="38.20" y1="251.40" x2="52.20" y2="251.40" stroke="#2ca02c" stroke-width="1.15"/>
<text transform="translate(57.80,254.00) scale(1.000,1.100)">CAE-DLF</text>
<line x1="38.20" y1="261.90" x2="52.20" y2="261.90" stroke="#d62728" stroke-width="1.15"/>
<text transform="translate(57.80,264.50) scale(1.000,1.100)">DBN</text>
<clipPath id="c533"><rect x="312.70" y="220.60" width="232.90" height="151.70"/></clipPath>
<g clip-path="url(#c533)">
<polyline points="322.80,365.10 322.80,311.05 329.21,270.16 339.90,266.28 343.74,254.77 348.87,247.15 357.63,241.33 364.47,237.59 367.89,234.26 383.06,229.97 414.69,229.41 451.02,228.86 519.40,227.61" fill="none" stroke="#1f77b4" stroke-width="1.15" stroke-linejoin="round"/>
<polyline points="322.80,365.10 322.80,338.77 333.49,274.46 342.46,268.77 348.87,256.58 362.76,253.53 381.99,248.40 408.28,246.60 418.97,240.08 448.24,236.48 454.44,235.23 472.39,230.66 486.28,229.83 514.28,228.30" fill="none" stroke="#ff7f0e" stroke-width="1.15" stroke-linejoin="round"/>
<polyline points="327.07,365.10 333.49,322.97 341.61,309.66 344.17,281.52 352.72,269.33 363.40,266.28 365.33,254.22 374.09,252.28 384.35,248.40 408.28,245.90 451.02,244.24 472.39,240.08 492.69,231.35 514.28,228.30 534.36,228.30" fill="none" stroke="#2ca02c" stroke-width="1.15" stroke-linejoin="round"/>
<polyline points="323.87,365.10 331.56,322.97 337.33,309.66 342.46,282.77 346.95,269.47 358.92,266.28 363.40,253.53 369.17,252.28 376.87,248.40 408.28,245.07 449.52,243.83 468.12,240.08 482.43,232.46 493.76,230.66 514.28,228.30 530.09,228.30" fill="none" stroke="#d62728" stroke-width="1.15" stroke-linejoin="round"/>
<polyline points="322.80,365.10 514.49,240.78" fill="none" stroke="#1c1c9c" stroke-width="1.50" stroke-linejoin="round" stroke-dasharray="4.7 2.6"/>
</g>
<rect x="312.70" y="220.60" width="232.90" height="151.70" fill="none" stroke="#222" stroke-width="0.9"/>
<line x1="322.80" y1="372.30" x2="322.80" y2="374.80" stroke="#222" stroke-width="0.9"/>
<text transform="translate(322.80,382.85) scale(0.940,1.100)" text-anchor="middle">0.0</text>
<line x1="365.54" y1="372.30" x2="365.54" y2="374.80" stroke="#222" stroke-width="0.9"/>
<text transform="translate(365.54,382.85) scale(0.940,1.100)" text-anchor="middle">0.2</text>
<line x1="408.28" y1="372.30" x2="408.28" y2="374.80" stroke="#222" stroke-width="0.9"/>
<text transform="translate(408.28,382.85) scale(0.940,1.100)" text-anchor="middle">0.4</text>
<line x1="451.02" y1="372.30" x2="451.02" y2="374.80" stroke="#222" stroke-width="0.9"/>
<text transform="translate(451.02,382.85) scale(0.940,1.100)" text-anchor="middle">0.6</text>
<line x1="493.76" y1="372.30" x2="493.76" y2="374.80" stroke="#222" stroke-width="0.9"/>
<text transform="translate(493.76,382.85) scale(0.940,1.100)" text-anchor="middle">0.8</text>
<line x1="536.50" y1="372.30" x2="536.50" y2="374.80" stroke="#222" stroke-width="0.9"/>
<text transform="translate(536.50,382.85) scale(0.940,1.100)" text-anchor="middle">1.0</text>
<line x1="310.20" y1="365.10" x2="312.70" y2="365.10" stroke="#222" stroke-width="0.9"/>
<text transform="translate(306.60,368.25) scale(0.940,1.100)" text-anchor="end">0.0</text>
<line x1="310.20" y1="337.38" x2="312.70" y2="337.38" stroke="#222" stroke-width="0.9"/>
<text transform="translate(306.60,340.53) scale(0.940,1.100)" text-anchor="end">0.2</text>
<line x1="310.20" y1="309.66" x2="312.70" y2="309.66" stroke="#222" stroke-width="0.9"/>
<text transform="translate(306.60,312.81) scale(0.940,1.100)" text-anchor="end">0.4</text>
<line x1="310.20" y1="281.94" x2="312.70" y2="281.94" stroke="#222" stroke-width="0.9"/>
<text transform="translate(306.60,285.09) scale(0.940,1.100)" text-anchor="end">0.6</text>
<line x1="310.20" y1="254.22" x2="312.70" y2="254.22" stroke="#222" stroke-width="0.9"/>
<text transform="translate(306.60,257.37) scale(0.940,1.100)" text-anchor="end">0.8</text>
<line x1="310.20" y1="226.50" x2="312.70" y2="226.50" stroke="#222" stroke-width="0.9"/>
<text transform="translate(306.60,229.65) scale(0.940,1.100)" text-anchor="end">1.0</text>
<text transform="translate(428.35,392.00) scale(1.000,1.100)" text-anchor="middle">1-Specificity</text>
<text transform="translate(292.20,297.25) rotate(-90) scale(1.000,1.100)" text-anchor="middle">Sensitivity</text>
<rect x="415.60" y="324.70" width="126.00" height="44.00" rx="1.4" fill="#fff" fill-opacity="0.8" stroke="#ccc" stroke-opacity="0.8" stroke-width="0.6"/>
<line x1="418.40" y1="330.80" x2="432.40" y2="330.80" stroke="#1f77b4" stroke-width="1.15"/>
<text transform="translate(437.80,333.40) scale(1.000,1.100)">Our proposed model = 0.896</text>
<line x1="418.40" y1="341.00" x2="432.40" y2="341.00" stroke="#ff7f0e" stroke-width="1.15"/>
<text transform="translate(437.80,343.60) scale(1.000,1.100)">CNN = 0.853</text>
<line x1="418.40" y1="351.40" x2="432.40" y2="351.40" stroke="#2ca02c" stroke-width="1.15"/>
<text transform="translate(437.80,354.00) scale(1.000,1.100)">CAE-DLF = 0.786</text>
<line x1="418.40" y1="361.60" x2="432.40" y2="361.60" stroke="#d62728" stroke-width="1.15"/>
<text transform="translate(437.80,364.20) scale(1.000,1.100)">DBN = 0.759</text>
<text x="136.40" y="197.40" text-anchor="middle" class="cap">(<tspan font-weight="bold">a</tspan>)</text>
<text x="419.30" y="197.30" text-anchor="middle" class="cap">(<tspan font-weight="bold">b</tspan>)</text>
<text x="136.30" y="413.80" text-anchor="middle" class="cap">(<tspan font-weight="bold">c</tspan>)</text>
<text x="416.90" y="413.80" text-anchor="middle" class="cap">(<tspan font-weight="bold">d</tspan>)</text>
</g>
</svg>
</body></html>
